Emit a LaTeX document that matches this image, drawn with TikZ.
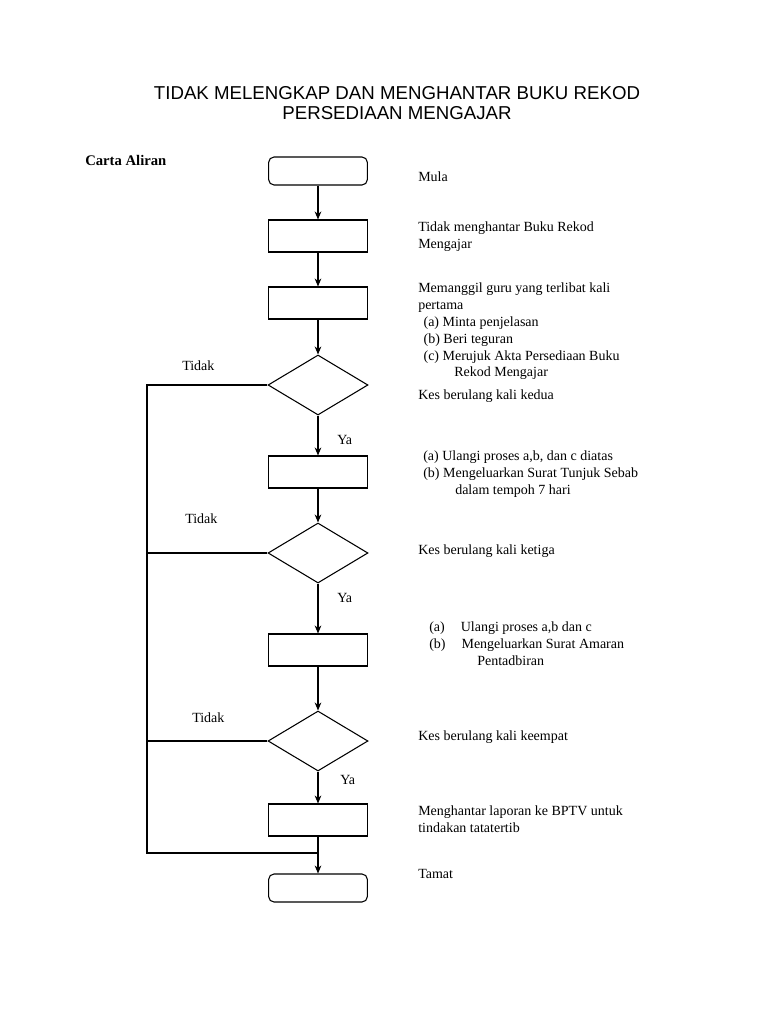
\documentclass[tikz,border=0pt]{standalone}
\usepackage{fontspec}
\setmainfont{Liberation Serif}
\newfontfamily\titlefont{Liberation Sans}
\usetikzlibrary{shapes.geometric,arrows.meta}
\begin{document}
\begin{tikzpicture}[x=0.75pt,y=-0.75pt,
  box/.style={draw,thick,minimum width=74pt,minimum height=24pt,inner sep=0pt},
  term/.style={box,rounded corners=4pt,minimum height=21pt},
  dec/.style={draw,thick,diamond,aspect=1.67,minimum width=75pt,minimum height=45pt,inner sep=0pt},
  lab/.style={font=\fontsize{10.5}{12.6}\selectfont,align=left,anchor=north west,inner sep=0pt},
  arr/.style={thick,-{Stealth[length=6pt,width=5pt]}}]
\useasboundingbox (0,0) rectangle (768,1024);
\node[font=\titlefont\fontsize{14}{15}\selectfont,align=center] (title) at (397,103) {TIDAK MELENGKAP DAN MENGHANTAR BUKU REKOD\\PERSEDIAAN MENGAJAR};
\node[font=\bfseries\fontsize{11}{13}\selectfont,anchor=west,inner sep=0pt] (carta) at (85,160) {Carta Aliran};
\node[term] (s) at (318,171) {};
\node[box] (b1) at (318,236) {};
\node[box] (b2) at (318,303) {};
\node[dec] (d1) at (318,385) {};
\node[box] (b3) at (318,472) {};
\node[dec] (d2) at (318,553) {};
\node[box] (b4) at (318,650) {};
\node[dec] (d3) at (318,741) {};
\node[box] (b5) at (318,820) {};
\node[term] (e) at (318,888) {};
\draw[arr] (s) -- (b1);
\draw[arr] (b1) -- (b2);
\draw[arr] (b2) -- (d1);
\draw[arr] (d1) -- (b3);
\draw[arr] (b3) -- (d2);
\draw[arr] (d2) -- (b4);
\draw[arr] (b4) -- (d3);
\draw[arr] (d3) -- (b5);
\draw[arr] (b5) -- (e);
\coordinate (j) at (318,853);
\draw[thick] (d1.west) -- (147,385) |- (j);
\draw[thick] (d2.west) -- (147,553);
\draw[thick] (d3.west) -- (147,741);
\node[lab] (t1) at (182,361) {Tidak};
\node[lab] (t2) at (185,514) {Tidak};
\node[lab] (t3) at (192,713) {Tidak};
\node[lab] (y1) at (337,435) {Ya};
\node[lab] (y2) at (337,593) {Ya};
\node[lab] (y3) at (340,775) {Ya};
\node[lab] (l0) at (418,172) {Mula};
\node[lab] (l1) at (418,222) {Tidak menghantar Buku Rekod\\Mengajar};
\node[lab] (l2) at (418,283) {Memanggil guru yang terlibat kali\\pertama\\
\hspace*{4pt}(a)\ Minta penjelasan\\\hspace*{4pt}(b)\ Beri teguran\\\hspace*{4pt}(c)\ Merujuk Akta Persediaan Buku\\\hspace*{27pt}Rekod Mengajar};
\node[lab] (l3) at (418,390) {Kes berulang kali kedua};
\node[lab] (l4) at (423,451) {(a)\ Ulangi proses a,b, dan c diatas\\(b)\ Mengeluarkan Surat Tunjuk Sebab\\\hspace*{24pt}dalam tempoh 7 hari};
\node[lab] (l5) at (418,545) {Kes berulang kali ketiga};
\node[lab] (l6) at (429,622) {(a)\hspace{12pt}Ulangi proses a,b dan c\\(b)\hspace{12pt}Mengeluarkan Surat Amaran\\\hspace*{36pt}Pentadbiran};
\node[lab] (l7) at (418,731) {Kes berulang kali keempat};
\node[lab] (l8) at (418,806) {Menghantar laporan ke BPTV untuk\\tindakan tatatertib};
\node[lab] (l9) at (418,869) {Tamat};
\end{tikzpicture}
\end{document}
